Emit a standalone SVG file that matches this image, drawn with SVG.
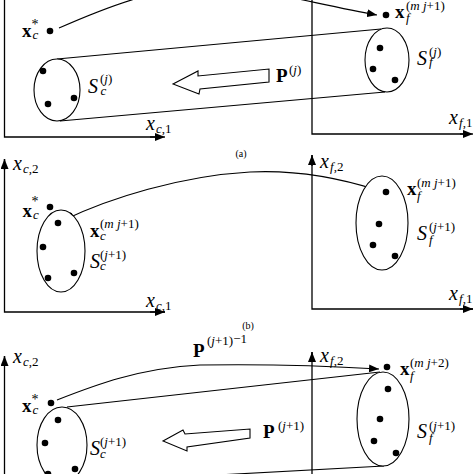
<svg xmlns="http://www.w3.org/2000/svg" width="474" height="474" viewBox="0 0 474 474">
<style>
text { font-family: "Liberation Serif", "Times New Roman", serif; fill: #000; }
.b { font-size: 19px; font-weight: bold; font-style: normal; }
.m { font-size: 20px; font-style: italic; }
.s { font-size: 13px; font-style: normal; font-weight: normal; }
.si { font-size: 13px; font-style: italic; font-weight: normal; }
.i { font-style: italic; }
.ast { font-size: 14px; font-weight: normal; }
.cap { font-size: 10px; text-anchor: middle; }
.ax { stroke: #000; stroke-width: 1.3; fill: none; }
.ln { stroke: #000; stroke-width: 1.1; fill: none; }
.set { stroke: #000; stroke-width: 1.1; fill: #fff; }
.dot { fill: #000; }
.hol { stroke: #000; stroke-width: 1.1; fill: #fff; stroke-linejoin: miter; }
</style>
<defs>
<marker id="ah" viewBox="0 0 10 8" refX="10" refY="4" markerWidth="10" markerHeight="8" markerUnits="userSpaceOnUse" orient="auto"><path d="M0,0 L10,4 L0,8 z" fill="#000"/></marker>
</defs>
<rect width="474" height="474" fill="#fff"/>

<g id="connectors">
<path class="ln" d="M57,59 L381,29"/>
<path class="ln" d="M60,121 L385,92"/>
<path class="ln" d="M59,28 C100,10 160,-15 215,-14 C255,-13 320,5 377,15" marker-end="url(#ah)"/>
<polygon class="hol" points="173,84 198,71 198,76 269,69 269,82 200,89 199,94"/>
<path class="ln" d="M377,190 C330,175 290,170 250,172 C180,176 110,198 64,220" marker-end="url(#ah)"/>
<path class="ln" d="M67,407 L380,372"/>
<path class="ln" d="M70,483 L384,466"/>
<path class="ln" d="M57,400 C95,385 140,368 200,365 C260,364 330,366 379,369" marker-end="url(#ah)"/>
<polygon class="hol" points="163,441 183,430 185,434 250,429 250,438 187,447 187,451"/>
</g>

<g id="axes-a">
<path class="ax" d="M4.5,0 L4.5,137 L158,137"/>
<path class="ax" d="M150,137 L165,137" marker-end="url(#ah)"/>
<path class="ax" d="M312,0 L312,134 L466,134"/>
<path class="ax" d="M460,134 L473,134" marker-end="url(#ah)"/>
</g>
<g id="axes-b">
<path class="ax" d="M4.5,159 L4.5,312 L165,312"/>
<path class="ax" d="M4.5,170 L4.5,159" marker-end="url(#ah)"/>
<path class="ax" d="M150,312 L165,312" marker-end="url(#ah)"/>
<path class="ax" d="M312,155 L312,309 L473,309"/>
<path class="ax" d="M312,166 L312,155" marker-end="url(#ah)"/>
<path class="ax" d="M460,309 L473,309" marker-end="url(#ah)"/>
</g>
<g id="axes-c">
<path class="ax" d="M4.5,474 L4.5,356"/>
<path class="ax" d="M4.5,366 L4.5,356" marker-end="url(#ah)"/>
<path class="ax" d="M312,474 L312,352"/>
<path class="ax" d="M312,362 L312,352" marker-end="url(#ah)"/>
</g>

<g id="a-Sc">
<ellipse class="set" cx="57" cy="90" rx="23" ry="31"/>
<circle class="dot" cx="43" cy="71" r="3.3"/>
<circle class="dot" cx="48" cy="104" r="3.3"/>
<circle class="dot" cx="74" cy="98" r="3.3"/>
<text><tspan class="m" x="88" y="93">S</tspan><tspan class="s" x="100" y="83">(<tspan class="i">j</tspan>)</tspan><tspan class="si" x="100.5" y="95">c</tspan></text>
</g>
<g id="a-Sf">
<ellipse class="set" cx="387" cy="60" rx="22" ry="32"/>
<circle class="dot" cx="380" cy="48" r="3.3"/>
<circle class="dot" cx="373" cy="69" r="3.3"/>
<circle class="dot" cx="395" cy="80" r="3.3"/>
<text><tspan class="m" x="417" y="65">S</tspan><tspan class="s" x="429" y="56">(<tspan class="i">j</tspan>)</tspan><tspan class="si" x="429" y="66">f</tspan></text>
</g>
<g id="a-xc">
<circle class="dot" cx="50" cy="31" r="3.3"/>
<text><tspan class="b" x="22" y="37">x</tspan><tspan class="si" x="32.5" y="39">c</tspan><tspan class="ast" x="31.5" y="28.5">*</tspan></text>
</g>
<g id="a-xf">
<circle class="dot" cx="386" cy="15" r="3.3"/>
<text><tspan class="b" x="395" y="18">x</tspan><tspan class="si" x="406" y="22">f</tspan><tspan class="s" x="406" y="9.5">(<tspan class="i">m j</tspan>+1)</tspan></text>
</g>
<g id="a-P">
<text><tspan class="b" x="276" y="82">P</tspan><tspan class="s" x="289" y="74">(<tspan class="i">j</tspan>)</tspan></text>
</g>
<g id="a-axlabels">
<text><tspan class="m" x="146" y="130">x</tspan><tspan class="s" x="156" y="133"><tspan class="i">c</tspan>,1</tspan></text>
<text><tspan class="m" x="449" y="124">x</tspan><tspan class="s" x="459" y="127"><tspan class="i">f</tspan>,1</tspan></text>
<text class="cap" x="241" y="157">(a)</text>
</g>

<g id="b-Sc">
<ellipse class="set" cx="61" cy="251" rx="24" ry="41"/>
<circle class="dot" cx="58" cy="223" r="3.3"/>
<circle class="dot" cx="43" cy="247" r="3.3"/>
<circle class="dot" cx="48" cy="278" r="3.3"/>
<circle class="dot" cx="74" cy="273" r="3.3"/>
<text><tspan class="b" x="90" y="237">x</tspan><tspan class="s" x="100" y="228">(<tspan class="i">m j</tspan>+1)</tspan><tspan class="si" x="100" y="240">c</tspan></text>
<text><tspan class="m" x="90" y="268">S</tspan><tspan class="s" x="100" y="259">(<tspan class="i">j</tspan>+1)</tspan><tspan class="si" x="100" y="270">c</tspan></text>
</g>
<g id="b-xc">
<circle class="dot" cx="50" cy="207" r="3.3"/>
<text><tspan class="b" x="22.5" y="217">x</tspan><tspan class="si" x="33" y="219">c</tspan><tspan class="ast" x="31.5" y="206">*</tspan></text>
</g>
<g id="b-Sf">
<ellipse class="set" cx="382" cy="223" rx="26" ry="47"/>
<circle class="dot" cx="386" cy="192" r="3.3"/>
<circle class="dot" cx="379" cy="224" r="3.3"/>
<circle class="dot" cx="373" cy="245" r="3.3"/>
<circle class="dot" cx="395" cy="256" r="3.3"/>
<text><tspan class="b" x="407" y="195">x</tspan><tspan class="s" x="417" y="187">(<tspan class="i">m j</tspan>+1)</tspan><tspan class="si" x="417" y="200">f</tspan></text>
<text><tspan class="m" x="417" y="240">S</tspan><tspan class="s" x="429" y="231">(<tspan class="i">j</tspan>+1)</tspan><tspan class="si" x="429" y="244">f</tspan></text>
</g>
<g id="b-axlabels">
<text><tspan class="m" x="13" y="170">x</tspan><tspan class="s" x="23" y="173"><tspan class="i">c</tspan>,2</tspan></text>
<text><tspan class="m" x="146" y="307">x</tspan><tspan class="s" x="156" y="310"><tspan class="i">c</tspan>,1</tspan></text>
<text><tspan class="m" x="320" y="168">x</tspan><tspan class="s" x="330" y="171"><tspan class="i">f</tspan>,2</tspan></text>
<text><tspan class="m" x="449" y="300">x</tspan><tspan class="s" x="459" y="303"><tspan class="i">f</tspan>,1</tspan></text>
<text class="cap" x="248" y="329">(b)</text>
</g>

<g id="c-Sc">
<ellipse class="set" cx="62" cy="445" rx="25" ry="38"/>
<circle class="dot" cx="58" cy="420" r="3.3"/>
<circle class="dot" cx="45" cy="443" r="3.3"/>
<circle class="dot" cx="75" cy="469" r="3.3"/>
<circle class="dot" cx="48" cy="474" r="3.3"/>
<text><tspan class="m" x="90" y="455">S</tspan><tspan class="s" x="100" y="446">(<tspan class="i">j</tspan>+1)</tspan><tspan class="si" x="100" y="458">c</tspan></text>
</g>
<g id="c-xc">
<circle class="dot" cx="51" cy="403" r="3.3"/>
<text><tspan class="b" x="22" y="412">x</tspan><tspan class="si" x="32.5" y="414">c</tspan><tspan class="ast" x="31.5" y="404">*</tspan></text>
</g>
<g id="c-Sf">
<ellipse class="set" cx="383" cy="419" rx="26" ry="47"/>
<circle class="dot" cx="387" cy="367" r="3.3"/>
<circle class="dot" cx="388" cy="389" r="3.3"/>
<circle class="dot" cx="380" cy="419" r="3.3"/>
<circle class="dot" cx="374" cy="441" r="3.3"/>
<circle class="dot" cx="396" cy="453" r="3.3"/>
<text><tspan class="b" x="400" y="375">x</tspan><tspan class="s" x="410" y="367">(<tspan class="i">m j</tspan>+2)</tspan><tspan class="si" x="410" y="380">f</tspan></text>
<text><tspan class="m" x="417" y="438">S</tspan><tspan class="s" x="429" y="430">(<tspan class="i">j</tspan>+1)</tspan><tspan class="si" x="429" y="442">f</tspan></text>
</g>
<g id="c-P">
<text><tspan class="b" x="193" y="357">P</tspan><tspan class="s" x="207" y="345">(<tspan class="i">j</tspan>+1)<tspan dy="-2">−1</tspan></tspan></text>
<text><tspan class="b" x="263" y="438">P</tspan><tspan class="s" x="278" y="430">(<tspan class="i">j</tspan>+1)</tspan></text>
</g>
<g id="c-axlabels">
<text><tspan class="m" x="13" y="363">x</tspan><tspan class="s" x="23" y="366"><tspan class="i">c</tspan>,2</tspan></text>
<text><tspan class="m" x="320" y="362">x</tspan><tspan class="s" x="330" y="365"><tspan class="i">f</tspan>,2</tspan></text>
</g>
</svg>
